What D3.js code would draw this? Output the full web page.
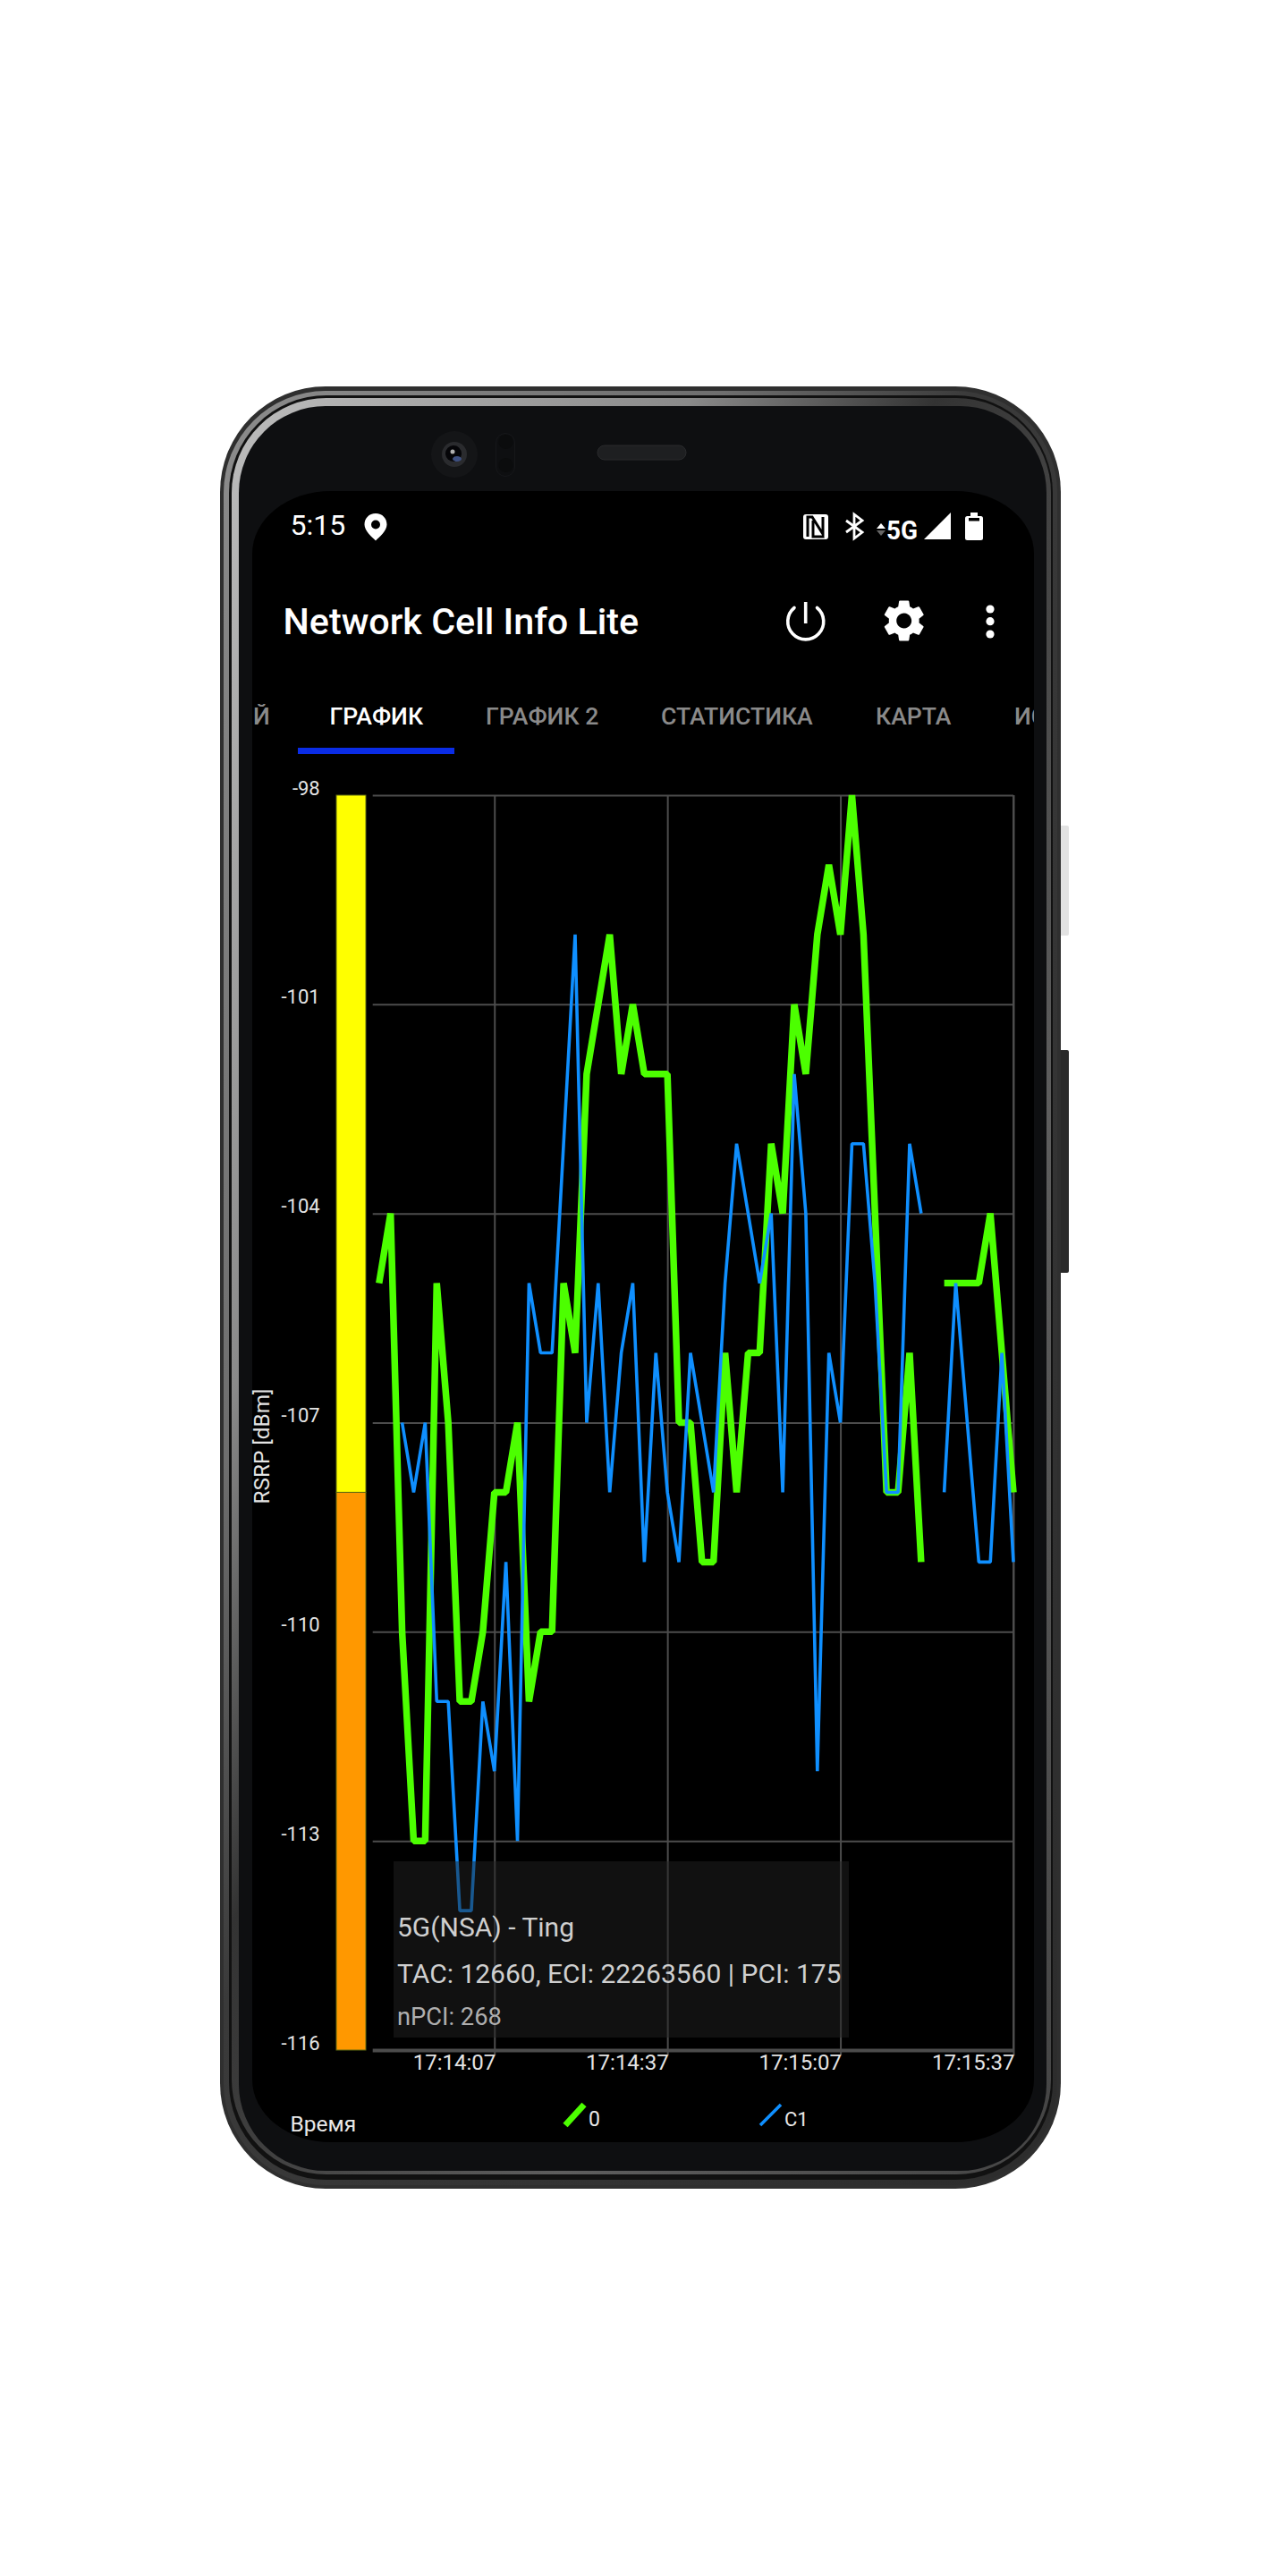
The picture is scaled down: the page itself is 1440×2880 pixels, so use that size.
<!DOCTYPE html>
<html>
<head>
<meta charset="utf-8">
<script src="https://cdn.jsdelivr.net/npm/d3@7/dist/d3.min.js"></script>
<style>
html,body{margin:0;padding:0;background:#fff}
svg{display:block}
text{font-family:Roboto,sans-serif}
</style>
</head>
<body>
<svg id="c" width="1440" height="2880" viewBox="0 0 1440 2880"></svg>
<script>
// seconds relative to 17:14:07
const seconds = [-20,-18,-16,-14,-12,-10,-8,-6,-4,-2,0,2,4,6,8,10,12,14,16,18,20,22,24,26,28,30,32,34,36,38,40,42,44,46,48,50,52,54,56,58,60,62,64,66,68,70,72,74,76,78,80,82,84,86,88,90];
const seriesO = [-105,-104,-110,-113,-113,-105,-107,-111,-111,-110,-108,-108,-107,-111,-110,-110,-105,-106,-102,-101,-100,-102,-101,-102,-102,-102,-107,-107,-109,-109,-106,-108,-106,-106,-103,-104,-101,-102,-100,-99,-100,-98,-100,-104,-108,-108,-106,-109,null,-105,-105,-105,-105,-104,-106,-108];
const seriesC1 = [null,null,-107,-108,-107,-111,-111,-114,-114,-111,-112,-109,-113,-105,-106,-106,-103,-100,-107,-105,-108,-106,-105,-109,-106,-108,-109,-106,-107,-108,-105,-103,-104,-105,-104,-108,-102,-104,-112,-106,-107,-103,-103,-105,-108,-108,-103,-104,null,-108,-105,-107,-109,-109,-106,-109];
const yTicks = [-98,-101,-104,-107,-110,-113,-116];
const xTicks = [0,30,60,90];
const xTickLabels = ["17:14:07","17:14:37","17:15:07","17:15:37"];
const bands = [{from:-98,to:-108,color:"#ffff00"},{from:-108,to:-116,color:"#ff9800"}];
const tabs = [["Й",283,"#8a8a8a"],["ГРАФИК",368.5,"#ffffff"],["ГРАФИК 2",543,"#8a8a8a"],["СТАТИСТИКА",739,"#8a8a8a"],["КАРТА",979,"#8a8a8a"],["ИС",1134,"#8a8a8a"]];
const infoLines = [["5G(NSA) - Ting",2165,30,"#cfcfcf"],["TAC: 12660, ECI: 22263560 | PCI: 175",2217,30,"#cfcfcf"],["nPCI: 268",2264,27.3,"#aeaeae"]];
const GREEN="#4cff00", BLUE="#0f8fff";

const svg=d3.select("#c");
const defs=svg.append("defs");
const gradient=(id,stops)=>{const g=defs.append("linearGradient").attr("id",id).attr("x1","0").attr("y1","0").attr("x2","1").attr("y2","1");
  stops.forEach(s=>g.append("stop").attr("offset",s[0]).attr("stop-color",s[1]));};
gradient("rimOuter",[[0,"#8c8c8c"],[0.3,"#6e6e6e"],[0.45,"#3a3a3a"],[1,"#2c2c2c"]]);
gradient("rimInner",[[0,"#bdbdbd"],[0.28,"#8a8a8a"],[0.43,"#333333"],[0.7,"#5e5e5e"],[1,"#444444"]]);
defs.append("clipPath").attr("id","screen").append("rect").attr("x",282).attr("y",549).attr("width",874).attr("height",1846).attr("rx",88).attr("ry",70);

// ---------- phone body
svg.append("rect").attr("x",1180).attr("y",923).attr("width",15).attr("height",123).attr("rx",2).attr("fill","#e2e2e2");
svg.append("rect").attr("x",1180).attr("y",1174).attr("width",15).attr("height",249).attr("rx",2).attr("fill","#2a2a2a");
const phone=svg.append("g");
phone.append("rect").attr("x",246).attr("y",432).attr("width",940).attr("height",2015).attr("rx",118).attr("fill","#2f2f2f");
phone.append("rect").attr("x",250).attr("y",437).attr("width",932).attr("height",2006).attr("rx",114).attr("fill","url(#rimOuter)");
phone.append("rect").attr("x",256).attr("y",442).attr("width",921).attr("height",1995).attr("rx",109).attr("fill","#111");
phone.append("rect").attr("x",259).attr("y",445).attr("width",916).attr("height",1986).attr("rx",106).attr("fill","url(#rimInner)");
phone.append("rect").attr("x",267).attr("y",454).attr("width",903).attr("height",1973).attr("rx",97).attr("fill","#0e0f11");

// camera, sensors, speaker
const notch=svg.append("g");
notch.append("circle").attr("cx",508).attr("cy",508).attr("r",26).attr("fill","#141517");
notch.append("circle").attr("cx",508).attr("cy",508).attr("r",14).attr("fill","#2a2b2e");
notch.append("circle").attr("cx",507).attr("cy",507).attr("r",9).attr("fill","#050508");
notch.append("ellipse").attr("cx",511).attr("cy",513).attr("rx",5).attr("ry",3).attr("fill","#3d4f80");
notch.append("circle").attr("cx",506).attr("cy",505).attr("r",2.5).attr("fill","#b0b0b0");
notch.append("rect").attr("x",554.5).attr("y",484.5).attr("width",21).attr("height",48).attr("rx",10.5).attr("fill","#0e0f11").attr("stroke","#16171a");
[494,520].forEach(cy=>notch.append("circle").attr("cx",565.5).attr("cy",cy).attr("r",8).attr("fill","#0b0c0d"));
notch.append("rect").attr("x",668).attr("y",498).attr("width",99).attr("height",16).attr("rx",8).attr("fill","#1e1f21").attr("stroke","#2a2b2d");

// ---------- screen
svg.append("rect").attr("x",282).attr("y",549).attr("width",874).attr("height",1846).attr("rx",88).attr("ry",70).attr("fill","#000");

// status bar
const st=svg.append("g");
st.append("text").attr("x",324.5).attr("y",598).attr("font-size",32).attr("fill","#fff").text("5:15");
st.append("path").attr("transform","translate(420,574)").attr("fill","#fff").attr("fill-rule","evenodd")
  .attr("d","M0 0C-7.5 0-12.5 5.5-12.5 12.5C-12.5 19.5-4 26.5 0 30.5C4 26.5 12.5 19.5 12.5 12.5C12.5 5.5 7.5 0 0 0ZM0 7.5A5 5 0 1 1 0 17.5A5 5 0 1 1 0 7.5Z");
st.append("rect").attr("x",898).attr("y",575).attr("width",28).attr("height",28).attr("rx",3).attr("fill","#fff");
st.append("path").attr("fill","none").attr("stroke","#000").attr("stroke-width",3).attr("d","M903 600V578H908L920 597V578M909 582V600H921");
st.append("path").attr("fill","none").attr("stroke","#fff").attr("stroke-width",2.8).attr("d","M946 582L964 595L955 602V575L964 582L946 595");
st.append("path").attr("fill","#fff").attr("d","M980 591L985 585L990 591Z");
st.append("path").attr("fill","#666").attr("d","M980 593L985 599L990 593Z");
st.append("text").attr("x",991).attr("y",603).attr("font-size",29).attr("font-weight",700).attr("fill","#fff").attr("textLength",35).attr("lengthAdjust","spacingAndGlyphs").text("5G");
st.append("path").attr("fill","#fff").attr("d","M1033 603L1063 573V603Z");
st.append("rect").attr("x",1079).attr("y",577).attr("width",20).attr("height",27).attr("rx",2.5).attr("fill","#fff");
st.append("rect").attr("x",1085).attr("y",573).attr("width",8).attr("height",5).attr("fill","#fff");
st.append("rect").attr("x",1083).attr("y",579).attr("width",12).attr("height",3.5).attr("fill","#000");

// app bar
const app=svg.append("g");
app.append("text").attr("x",316.5).attr("y",708.5).attr("font-size",41.3).attr("font-weight",500).attr("fill","#fff").text("Network Cell Info Lite");
app.append("path").attr("fill","none").attr("stroke","#fff").attr("stroke-width",3.6).attr("stroke-linecap","round")
  .attr("d","M888 679.5A20 20 0 1 0 913.5 679.5");
app.append("path").attr("fill","none").attr("stroke","#fff").attr("stroke-width",3.6).attr("d","M900.7 673V697");
app.append("path").attr("fill","#fff").attr("transform","translate(1010.7,694) scale(2.35) translate(-12,-12)")
  .attr("d","M19.14 12.94c.04-.3.06-.61.06-.94 0-.32-.02-.64-.07-.94l2.03-1.58c.18-.14.23-.41.12-.61l-1.92-3.32c-.12-.22-.37-.29-.59-.22l-2.39.96c-.5-.38-1.03-.7-1.62-.94l-.36-2.54c-.04-.24-.24-.41-.48-.41h-3.84c-.24 0-.43.17-.47.41l-.36 2.54c-.59.24-1.13.57-1.62.94l-2.39-.96c-.22-.08-.47 0-.59.22L2.74 8.87c-.12.21-.08.47.12.61l2.03 1.58c-.05.3-.09.63-.09.94s.02.64.07.94l-2.03 1.58c-.18.14-.23.41-.12.61l1.92 3.32c.12.22.37.29.59.22l2.39-.96c.5.38 1.03.7 1.62.94l.36 2.54c.05.24.24.41.48.41h3.84c.24 0 .44-.17.47-.41l.36-2.54c.59-.24 1.13-.56 1.62-.94l2.39.96c.22.08.47 0 .59-.22l1.92-3.32c.12-.22.07-.47-.12-.61l-2.01-1.58zM12 15.6c-1.98 0-3.6-1.62-3.6-3.6s1.62-3.6 3.6-3.6 3.6 1.62 3.6 3.6-1.62 3.6-3.6 3.6z");
[681,694.7,709].forEach(cy=>app.append("circle").attr("cx",1107).attr("cy",cy).attr("r",4.6).attr("fill","#fff"));

// tabs
const tabG=svg.append("g").attr("clip-path","url(#screen)");
tabG.selectAll("text").data(tabs).join("text").attr("x",d=>d[1]).attr("y",810).attr("font-size",26.6).attr("font-weight",500).attr("fill",d=>d[2]).text(d=>d[0]);
tabG.append("rect").attr("x",333).attr("y",836).attr("width",175).attr("height",7).attr("fill","#0a2ce6");

// ---------- chart
const x=d3.scaleLinear().domain([-21.1,90]).range([416.7,1133]);
const y=d3.scaleLinear().domain([-98,-116]).range([889,2292]);
const GRID="#4c4c4c";

// vertical grid + time labels
const xAxis=d3.axisBottom(x).tickValues(xTicks).tickSize(1409).tickPadding(12).tickFormat((d,i)=>xTickLabels[i]);
const gx=svg.append("g").attr("transform","translate(0,889)").call(xAxis);
gx.select(".domain").remove();
gx.selectAll("line").attr("stroke",GRID).attr("stroke-width",2);
gx.selectAll("text").attr("text-anchor","end").attr("x",1).attr("y",1425).attr("dy",0).attr("font-size",24).attr("font-family","Roboto").attr("fill","#e4e4e4");

// horizontal grid + value labels
const yAxis=d3.axisLeft(y).tickValues(yTicks).tickSize(-716.3).tickPadding(59).tickFormat(d=>String(d));
const gy=svg.append("g").attr("transform","translate(416.7,0)").call(yAxis);
gy.select(".domain").remove();
gy.selectAll("line").attr("stroke",GRID).attr("stroke-width",d=>d===-116?4:2);
gy.selectAll("text").attr("dy",-1).attr("font-size",22).attr("font-family","Roboto").attr("fill","#e4e4e4");
svg.append("line").attr("x1",x(90)).attr("x2",x(90)).attr("y1",y(-98)).attr("y2",y(-116)).attr("stroke",GRID).attr("stroke-width",2);

// quality band
svg.append("g").selectAll("rect").data(bands).join("rect")
  .attr("x",376).attr("width",33).attr("y",d=>y(d.from)).attr("height",d=>y(d.to)-y(d.from)).attr("fill",d=>d.color).attr("stroke","#5f6b10").attr("stroke-width",1);

// axis title
svg.append("text").attr("transform","translate(301,1617) rotate(-90)").attr("text-anchor","middle").attr("font-size",24.3).attr("fill","#e4e4e4").text("RSRP [dBm]");

// series
const seriesPath=vals=>d3.line().defined((d,i)=>vals[i]!==null).x((d,i)=>x(seconds[i])).y((d,i)=>y(vals[i]))(vals);
svg.append("path").attr("d",seriesPath(seriesO)).attr("fill","none").attr("stroke",GREEN).attr("stroke-width",7.5).attr("stroke-linejoin","bevel");
svg.append("path").attr("d",seriesPath(seriesC1)).attr("fill","none").attr("stroke",BLUE).attr("stroke-width",3.6).attr("stroke-linejoin","bevel");

// info overlay
svg.append("rect").attr("x",440).attr("y",2081).attr("width",509).attr("height",197).attr("fill","rgba(34,34,34,0.5)");
svg.append("g").selectAll("text").data(infoLines).join("text").attr("x",444).attr("y",d=>d[1]).attr("font-size",d=>d[2]).attr("fill",d=>d[3]).text(d=>d[0]);

// legend
const lg=svg.append("g");
lg.append("text").attr("x",324.5).attr("y",2383).attr("font-size",24.5).attr("fill","#e8e8e8").text("Время");
lg.append("line").attr("x1",632).attr("y1",2376).attr("x2",653).attr("y2",2353).attr("stroke",GREEN).attr("stroke-width",7);
lg.append("text").attr("x",658).attr("y",2377).attr("font-size",23).attr("fill","#e8e8e8").text("0");
lg.append("line").attr("x1",850).attr("y1",2376).attr("x2",873).attr("y2",2353).attr("stroke",BLUE).attr("stroke-width",3.6);
lg.append("text").attr("x",877).attr("y",2377).attr("font-size",22).attr("fill","#e8e8e8").text("C1");
</script>
</body>
</html>
